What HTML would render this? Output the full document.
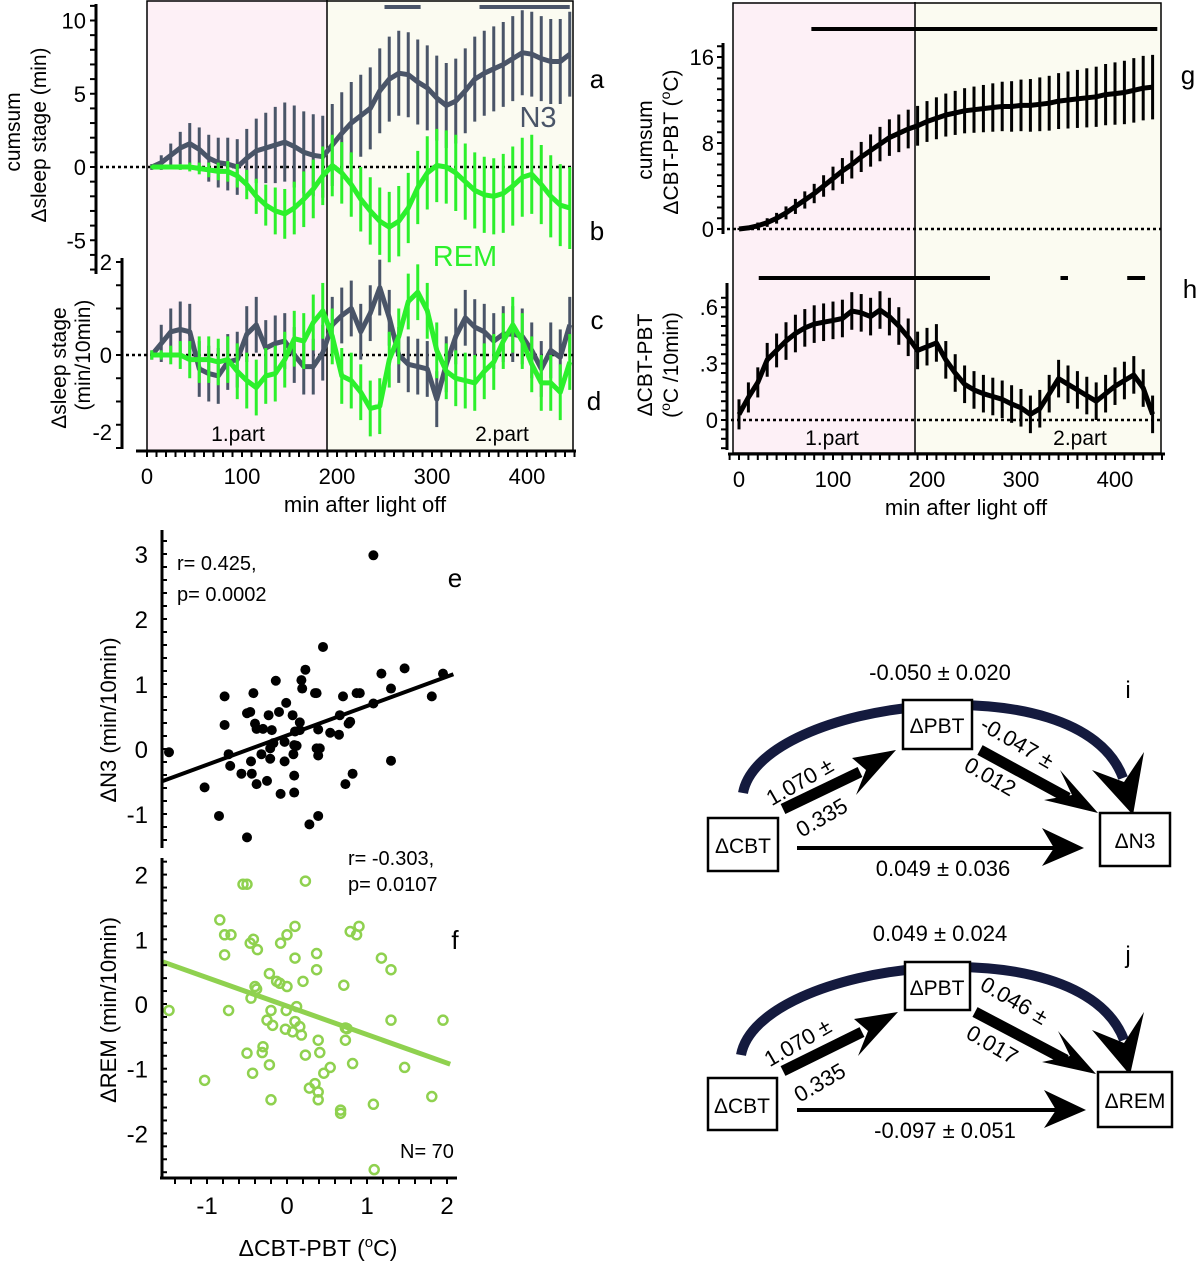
<!DOCTYPE html>
<html><head><meta charset="utf-8"><style>
body{margin:0;background:#fff}
svg{display:block;font-family:"Liberation Sans",sans-serif}
</style></head><body>
<svg id="fig" width="1200" height="1264" viewBox="0 0 1200 1264" xmlns="http://www.w3.org/2000/svg">
<g id="gL"></g>
<g id="gR"></g>
<g id="gS"></g>
</svg>
<script>
// ---------- data: left panel (a-d) ----------
const timesL = [5,15,25,35,45,55,65,75,85,95,105,115,125,135,145,155,165,175,185,195,205,215,225,235,245,255,265,275,285,295,305,315,325,335,345,355,365,375,385,395,405,415,425,435,445];
const n3Cum = [0,0.3,0.8,1.3,1.6,1.2,0.6,0.3,0.2,0,0.6,1.1,1.3,1.5,1.7,1.4,1.0,0.8,0.7,1.5,2.3,3.0,3.5,4.0,5.2,6.0,6.4,6.3,5.8,5.4,4.7,4.2,4.5,5.2,6.0,6.4,6.7,7.0,7.4,7.8,7.7,7.4,7.2,7.2,7.7];
const n3CumErr = [0.2,0.5,0.8,1.1,1.4,1.5,1.6,1.7,1.8,1.9,2.0,2.2,2.4,2.6,2.7,2.8,2.8,2.8,2.8,2.8,2.8,2.8,2.8,2.8,2.9,2.9,2.9,2.9,2.9,2.9,2.9,2.9,2.9,2.9,2.9,2.9,2.9,2.9,2.9,2.9,2.9,2.9,2.9,2.9,2.9];
const remCum = [0,0,0,0,0,-0.1,-0.2,-0.3,-0.3,-0.6,-1.2,-2.0,-2.6,-3.0,-3.2,-2.8,-2.2,-1.5,-0.6,0.1,-0.4,-1.2,-2.2,-3.0,-3.7,-4.1,-3.7,-2.8,-1.4,-0.4,0.1,0,-0.4,-1.0,-1.6,-1.9,-2.0,-1.8,-1.3,-0.7,-0.5,-1.2,-2.0,-2.6,-2.8];
const remCumErr = [0.1,0.1,0.15,0.2,0.3,0.4,0.5,0.6,0.7,0.8,1.0,1.2,1.4,1.6,1.7,1.8,1.9,2.0,2.0,2.1,2.1,2.2,2.2,2.3,2.3,2.4,2.4,2.4,2.5,2.5,2.5,2.5,2.6,2.6,2.6,2.6,2.6,2.7,2.7,2.7,2.7,2.7,2.8,2.8,2.8];
const n3Rate = [0,0.25,0.5,0.55,0.5,-0.3,-0.4,-0.45,-0.15,-0.1,0.45,0.65,0.15,0.25,0.3,0,-0.25,-0.25,0.05,0.65,0.85,1.0,0.5,0.9,1.45,0.8,0,-0.2,-0.25,-0.3,-0.95,-0.2,0.4,0.8,0.6,0.5,0.3,0.45,0.45,0.4,0.1,-0.3,0.1,-0.05,0.65];
const n3RateErr = [0.1,0.4,0.5,0.6,0.6,0.6,0.6,0.6,0.6,0.6,0.6,0.6,0.6,0.6,0.6,0.6,0.6,0.6,0.6,0.6,0.6,0.6,0.6,0.6,0.6,0.6,0.6,0.6,0.6,0.6,0.6,0.6,0.6,0.6,0.6,0.6,0.6,0.6,0.6,0.6,0.6,0.6,0.6,0.6,0.6];
const remRate = [0,0,0,0,-0.1,-0.1,-0.1,-0.15,-0.1,-0.35,-0.55,-0.7,-0.45,-0.4,-0.1,0.35,0.3,0.7,0.95,0.4,-0.45,-0.55,-0.8,-1.15,-1.1,-0.1,0.4,1.15,1.35,0.95,0.1,-0.35,-0.5,-0.55,-0.6,-0.35,-0.15,0.3,0.65,0.3,-0.2,-0.6,-0.6,-0.8,-0.15];
const remRateErr = [0.1,0.1,0.2,0.3,0.4,0.5,0.5,0.5,0.5,0.6,0.6,0.6,0.6,0.6,0.6,0.6,0.6,0.6,0.6,0.6,0.6,0.6,0.6,0.6,0.6,0.6,0.6,0.6,0.6,0.6,0.6,0.6,0.6,0.6,0.6,0.6,0.6,0.6,0.6,0.6,0.6,0.6,0.6,0.6,0.6];
const sigN3 = [[250,288],[350,445]];
const xTicks = [0,100,200,300,400];
const yTicksA = [10,5,0,-5];
const yTicksC = [2,0,-2];
// ---------- data: right panel (g-h) ----------
const timesR = [0,10,20,30,40,50,60,70,80,90,100,110,120,130,140,150,160,170,180,190,200,210,220,230,240,250,260,270,280,290,300,310,320,330,340,350,360,370,380,390,400,410,420,430,440];
const gCum = [0,0.1,0.3,0.6,1.0,1.5,2.1,2.7,3.3,4.0,4.7,5.4,6.0,6.7,7.3,7.9,8.5,8.9,9.3,9.6,10.0,10.3,10.6,10.8,11.0,11.1,11.2,11.3,11.4,11.4,11.5,11.5,11.6,11.7,11.9,12.0,12.1,12.2,12.3,12.5,12.6,12.7,12.9,13.1,13.2];
const gErr = [0.1,0.2,0.3,0.4,0.5,0.6,0.7,0.8,0.9,1.0,1.1,1.2,1.3,1.4,1.5,1.6,1.7,1.75,1.8,1.85,1.9,1.95,2.0,2.05,2.1,2.15,2.2,2.25,2.3,2.35,2.4,2.45,2.5,2.55,2.6,2.65,2.7,2.75,2.8,2.85,2.9,2.95,3.0,3.0,3.0];
const hRate = [0.03,0.12,0.2,0.32,0.37,0.42,0.46,0.49,0.51,0.52,0.53,0.54,0.58,0.57,0.55,0.585,0.55,0.5,0.44,0.37,0.39,0.41,0.32,0.25,0.19,0.16,0.14,0.125,0.11,0.085,0.065,0.03,0.06,0.14,0.22,0.19,0.16,0.13,0.1,0.14,0.18,0.21,0.24,0.17,0.03];
const hErr = [0.08,0.08,0.08,0.09,0.09,0.1,0.1,0.1,0.1,0.1,0.1,0.1,0.1,0.1,0.1,0.1,0.1,0.1,0.1,0.1,0.1,0.1,0.1,0.1,0.1,0.1,0.1,0.1,0.1,0.1,0.1,0.1,0.1,0.1,0.1,0.1,0.1,0.1,0.1,0.1,0.1,0.1,0.1,0.1,0.1];
const sigG = [[77,445]];
const sigH = [[21,267],[342,350],[413,432]];
const yTicksG = [16,8,0];
const yTicksH = [0.6,0.3,0];
const yTickLabelsH = [".6",".3","0"];
// ---------- data: scatter e ----------
const eX = [-1.475,1.08,0.45,-0.78,-0.78,-0.42,-0.5,-0.46,-0.4,-0.38,-0.3,-0.14,-0.23,-0.1,-0.01,0.07,0.18,0.19,0.23,0.16,0.35,0.37,0.39,0.54,0.66,0.7,0.87,0.91,0.77,0.79,0.65,1.18,1.3,1.47,1.81,1.95,1.08,-0.19,0.1,-0.21,-0.03,0.09,0.37,0.41,0.39,-0.32,-0.21,0.08,-0.03,-0.73,-0.71,-0.45,-0.57,-0.44,-0.38,-0.25,0.09,-0.08,0.09,0.73,0.82,1.3,-1.03,-0.85,-0.5,0.39,0.28,0.12,0.16,-0.17];
const eY = [-0.05,2.98,1.57,0.81,0.37,0.86,0.55,0.57,0.39,0.31,0.31,1.05,0.52,0.57,0.71,0.52,1.06,0.93,1.22,0.41,0.86,0.86,0.3,0.25,0.52,0.81,0.86,0.86,0.39,0.42,0.22,1.16,0.93,1.24,0.81,1.16,0.7,0.29,0.27,0.01,0.11,0.06,0.01,0.01,-0.1,-0.08,-0.15,-0.08,-0.19,-0.08,-0.26,-0.19,-0.38,-0.38,-0.54,-0.49,-0.41,-0.69,-0.67,-0.54,-0.38,-0.18,-0.59,-1.03,-1.36,-1.03,-1.16,0.05,0.29,0.09];
const eFit = [[-1.57,-0.5],[2.08,1.15]];
// ---------- data: scatter f ----------
const fX = [-1.475,-0.55,-0.5,0.23,-0.84,-0.78,-0.7,-0.78,-0.46,-0.42,-0.37,-0.08,0,0.1,0.1,0.37,0.37,-0.22,-0.13,-0.09,0,0.2,-0.4,-0.38,-0.45,-0.73,-0.2,-0.25,-0.18,-0.01,0.12,-0.02,0.07,0.1,0.16,0.18,0.23,-0.5,-0.3,-0.31,-0.22,-0.43,-1.03,-0.2,0.39,0.41,0.46,0.54,0.28,0.35,0.39,0.39,0.67,0.67,0.73,0.75,0.82,0.71,0.79,0.87,0.9,1.18,1.3,1.3,1.47,1.81,1.95,1.08,1.09,0.73];
const fY = [-0.1,1.85,1.85,1.9,1.3,1.07,1.07,0.76,0.94,1.0,0.84,0.94,1.07,1.2,0.71,0.78,0.53,0.47,0.35,0.32,0.27,0.35,0.27,0.23,0.09,-0.1,-0.1,-0.25,-0.33,-0.1,-0.04,-0.39,-0.43,-0.27,-0.35,-0.48,-0.79,-0.76,-0.66,-0.75,-0.94,-1.07,-1.18,-1.48,-0.56,-0.75,-1.07,-0.98,-1.3,-1.23,-1.36,-1.48,-1.64,-1.69,-0.56,-0.38,-0.92,0.29,1.12,1.07,1.2,0.71,0.53,-0.25,-0.98,-1.43,-0.25,-1.55,-2.56,-0.37];
const fFit = [[-1.55,0.65],[2.04,-0.93]];
const sXTicks = [-1,0,1,2];
const eYTicks = [3,2,1,0,-1];
const fYTicks = [2,1,0,-1,-2];

const NS = "http://www.w3.org/2000/svg";
function mk(parent, tag, attrs, text){
  const el = document.createElementNS(NS, tag);
  for (const k in attrs) el.setAttribute(k, attrs[k]);
  if (text !== undefined) el.textContent = text;
  parent.appendChild(el);
  return el;
}
const SLATE = "#4a5568", GREEN = "#2cf02c", LGREEN = "#8fd14f";
const F = '"Liberation Sans", sans-serif';

// ===== LEFT PANEL =====
const gL = document.getElementById('gL');
const xL = t => 147 + 0.95 * t;
const yA = v => 167 - 14.65 * v;
const yC = v => 355 - 46.5 * v;
let r;
r = mk(gL,'rect',{x:147,y:0,width:180,height:451,fill:'#fdf0f6'});
 
r = mk(gL,'rect',{x:327,y:0,width:246,height:451,fill:'#fbfbf1'});
 
r = mk(gL,'rect',{x:147,y:1,width:426,height:450,fill:'none',stroke:'#000','stroke-width':1.5});
 
r = mk(gL,'line',{x1:327,y1:0,x2:327,y2:451,stroke:'#000','stroke-width':1.5});
 
r = mk(gL,'line',{x1:100,y1:yA(0),x2:573,y2:yA(0),stroke:'#000','stroke-width':2.5,'stroke-dasharray':'3,3'});
 
r = mk(gL,'line',{x1:126,y1:yC(0),x2:573,y2:yC(0),stroke:'#000','stroke-width':2.5,'stroke-dasharray':'3,3'});
 
sigN3.forEach(s=>{
  const l = mk(gL,'line',{x1:xL(s[0]),y1:7,x2:xL(s[1]),y2:7,stroke:SLATE,'stroke-width':4});
   
});
function series(g, xs, ys, es, xf, yf, color, lw, name){
  const eg = mk(g,'g',{});
   
  xs.forEach((t,i)=>{
    const l = mk(eg,'line',{x1:xf(t),x2:xf(t),y1:yf(ys[i]+es[i]),y2:yf(ys[i]-es[i]),stroke:color,'stroke-width':3});
     
  });
  const p = mk(g,'polyline',{points:xs.map((t,i)=>xf(t).toFixed(1)+','+yf(ys[i]).toFixed(1)).join(' '),fill:'none',stroke:color,'stroke-width':lw,'stroke-linejoin':'round'});
   
}
series(gL, timesL, n3Cum, n3CumErr, xL, yA, SLATE, 5, 'n3-cumsum');
series(gL, timesL, remCum, remCumErr, xL, yA, GREEN, 5, 'rem-cumsum');
series(gL, timesL, n3Rate, n3RateErr, xL, yC, SLATE, 5, 'n3-rate');
series(gL, timesL, remRate, remRateErr, xL, yC, GREEN, 5, 'rem-rate');
r = mk(gL,'line',{x1:96,y1:4,x2:96,y2:274,stroke:'#000','stroke-width':3});
 
for (let v=-7; v<=11; v++){ const y=yA(v); if(y<4||y>274) continue;
  const l = mk(gL,'line',{x1:90,y1:y,x2:96,y2:y,stroke:'#000','stroke-width':2});
   
}
yTicksA.forEach(v=>{
  const t = mk(gL,'text',{x:86,y:yA(v)+8,'text-anchor':'end','font-size':22,'font-family':F},String(v));
   
});
r = mk(gL,'line',{x1:122,y1:258,x2:122,y2:449,stroke:'#000','stroke-width':3});
 
for (let v=-2; v<=2; v+=0.5){
  const l = mk(gL,'line',{x1:116,y1:yC(v),x2:122,y2:yC(v),stroke:'#000','stroke-width':2});
   
}
yTicksC.forEach(v=>{
  const t = mk(gL,'text',{x:112,y:Math.min(yC(v)+8,440),'text-anchor':'end','font-size':22,'font-family':F},String(v));
   
});
r = mk(gL,'line',{x1:136,y1:451,x2:576,y2:451,stroke:'#000','stroke-width':3});
 
for (let t=0; t<=450; t+=10){
  const l = mk(gL,'line',{x1:xL(t),y1:451,x2:xL(t),y2:457,stroke:'#000','stroke-width':2});
   
}
xTicks.forEach(v=>{
  const t = mk(gL,'text',{x:xL(v),y:484,'text-anchor':'middle','font-size':22,'font-family':F},String(v));
   
});

// ===== RIGHT PANEL =====
const gR = document.getElementById('gR');
const xR = t => 739 + 0.94 * t;
const yG = v => 229 - 10.75 * v;
const yH = v => 420 - 188 * v;
r = mk(gR,'rect',{x:733,y:2,width:182,height:451,fill:'#fdf0f6'});
 
r = mk(gR,'rect',{x:915,y:2,width:246,height:451,fill:'#fbfbf1'});
 
r = mk(gR,'rect',{x:733,y:3,width:428,height:450,fill:'none',stroke:'#000','stroke-width':1.5});
 
r = mk(gR,'line',{x1:915,y1:2,x2:915,y2:453,stroke:'#000','stroke-width':1.5});
 
r = mk(gR,'line',{x1:727,y1:yG(0),x2:1161,y2:yG(0),stroke:'#000','stroke-width':2.5,'stroke-dasharray':'3,3'});
 
r = mk(gR,'line',{x1:731,y1:yH(0),x2:1161,y2:yH(0),stroke:'#000','stroke-width':2.5,'stroke-dasharray':'3,3'});
 
sigG.forEach(s=>{
  const l = mk(gR,'line',{x1:xR(s[0]),y1:29,x2:xR(s[1]),y2:29,stroke:'#000','stroke-width':4});
   
});
sigH.forEach(s=>{
  const l = mk(gR,'line',{x1:xR(s[0]),y1:278,x2:xR(s[1]),y2:278,stroke:'#000','stroke-width':4});
   
});
series(gR, timesR, gCum, gErr, xR, yG, '#000', 5, 'cbt-pbt-cumsum');
series(gR, timesR, hRate, hErr, xR, yH, '#000', 5, 'cbt-pbt-rate');
r = mk(gR,'line',{x1:723,y1:43,x2:723,y2:234,stroke:'#000','stroke-width':3});
 
for (let v=0; v<=17; v+=1){
  const l = mk(gR,'line',{x1:717,y1:yG(v),x2:723,y2:yG(v),stroke:'#000','stroke-width':2});
   
}
yTicksG.forEach(v=>{
  const t = mk(gR,'text',{x:714,y:yG(v)+8,'text-anchor':'end','font-size':22,'font-family':F},String(v));
   
});
r = mk(gR,'line',{x1:727,y1:283,x2:727,y2:450,stroke:'#000','stroke-width':3});
 
for (let v=-0.15; v<=0.7; v+=0.05){
  const l = mk(gR,'line',{x1:721,y1:yH(v),x2:727,y2:yH(v),stroke:'#000','stroke-width':2});
   
}
yTicksH.forEach((v,i)=>{
  const t = mk(gR,'text',{x:718,y:yH(v)+8,'text-anchor':'end','font-size':22,'font-family':F},yTickLabelsH[i]);
   
});
r = mk(gR,'line',{x1:728,y1:454,x2:1165,y2:454,stroke:'#000','stroke-width':3});
 
for (let t=-10; t<=450; t+=10){
  const l = mk(gR,'line',{x1:xR(t),y1:454,x2:xR(t),y2:460,stroke:'#000','stroke-width':2});
   
}
xTicks.forEach(v=>{
  const t = mk(gR,'text',{x:xR(v),y:487,'text-anchor':'middle','font-size':22,'font-family':F},String(v));
   
});

// ===== SCATTER =====
const gS = document.getElementById('gS');
const xS = v => 287 + 80 * v;
const yE = v => 749 - 65 * v;
const yF = v => 1004 - 64.7 * v;
eX.forEach((x,i)=>{
  const c = mk(gS,'circle',{cx:xS(x),cy:yE(eY[i]),r:5,fill:'#000'});
   
});
r = mk(gS,'line',{x1:xS(eFit[0][0]),y1:yE(eFit[0][1]),x2:xS(eFit[1][0]),y2:yE(eFit[1][1]),stroke:'#000','stroke-width':4});
 
fX.forEach((x,i)=>{
  const c = mk(gS,'circle',{cx:xS(x),cy:yF(fY[i]),r:4.5,fill:'none',stroke:LGREEN,'stroke-width':2.5});
   
});
r = mk(gS,'line',{x1:xS(fFit[0][0]),y1:yF(fFit[0][1]),x2:xS(fFit[1][0]),y2:yF(fFit[1][1]),stroke:LGREEN,'stroke-width':5});
 
r = mk(gS,'line',{x1:162,y1:530,x2:162,y2:848,stroke:'#000','stroke-width':3});
 
for (let v=-1.4; v<=3.3; v+=0.2){
  const l = mk(gS,'line',{x1:162,y1:yE(v),x2:167,y2:yE(v),stroke:'#000','stroke-width':2});
   
}
eYTicks.forEach(v=>{
  const t = mk(gS,'text',{x:148,y:yE(v)+9,'text-anchor':'end','font-size':24,'font-family':F},String(v));
   
});
r = mk(gS,'line',{x1:162,y1:858,x2:162,y2:1178,stroke:'#000','stroke-width':3});
 
for (let v=-2.6; v<=2.2; v+=0.2){
  const l = mk(gS,'line',{x1:162,y1:yF(v),x2:167,y2:yF(v),stroke:'#000','stroke-width':2});
   
}
fYTicks.forEach(v=>{
  const t = mk(gS,'text',{x:148,y:yF(v)+9,'text-anchor':'end','font-size':24,'font-family':F},String(v));
   
});
r = mk(gS,'line',{x1:160,y1:1178,x2:457,y2:1178,stroke:'#000','stroke-width':3});
 
for (let v=-1.4; v<=2.1; v+=0.2){
  const l = mk(gS,'line',{x1:xS(v),y1:1178,x2:xS(v),y2:1184,stroke:'#000','stroke-width':2});
   
}
sXTicks.forEach(v=>{
  const t = mk(gS,'text',{x:xS(v),y:1214,'text-anchor':'middle','font-size':24,'font-family':F},String(v));
   
});
</script>
<svg style="position:absolute;left:0;top:0" width="1200" height="1264" viewBox="0 0 1200 1264" font-family="Liberation Sans, sans-serif">
  <text x="20" y="132" font-size="21" text-anchor="middle" transform="rotate(-90 20 132)">cumsum</text>
  <text x="46" y="135" font-size="21" text-anchor="middle" transform="rotate(-90 46 135)">Δsleep stage (min)</text>
  <text x="66" y="368" font-size="21" text-anchor="middle" transform="rotate(-90 66 368)">Δsleep stage</text>
  <text x="90" y="355" font-size="21" text-anchor="middle" transform="rotate(-90 90 355)">(min/10min)</text>
  <text x="365" y="512" font-size="22" text-anchor="middle">min after light off</text>
  <text x="538" y="127" font-size="29" fill="#4a5568" text-anchor="middle">N3</text>
  <text x="465" y="266" font-size="29" fill="#2cf02c" text-anchor="middle">REM</text>
  <text x="238" y="441" font-size="21" text-anchor="middle">1.part</text>
  <text x="502" y="441" font-size="21" text-anchor="middle">2.part</text>
  <text x="597" y="88" font-size="26" text-anchor="middle">a</text>
  <text x="597" y="240" font-size="26" text-anchor="middle">b</text>
  <text x="597" y="329" font-size="26" text-anchor="middle">c</text>
  <text x="594" y="410" font-size="26" text-anchor="middle">d</text>
  <text x="652" y="140" font-size="21" text-anchor="middle" transform="rotate(-90 652 140)">cumsum</text>
  <text x="678" y="142" font-size="21" text-anchor="middle" transform="rotate(-90 678 142)">ΔCBT-PBT (<tspan font-size="14" dy="-8">o</tspan><tspan dy="8">C)</tspan></text>
  <text x="652" y="365" font-size="21" text-anchor="middle" transform="rotate(-90 652 365)">ΔCBT-PBT</text>
  <text x="678" y="365" font-size="21" text-anchor="middle" transform="rotate(-90 678 365)">(<tspan font-size="14" dy="-8">o</tspan><tspan dy="8">C /10min)</tspan></text>
  <text x="966" y="515" font-size="22" text-anchor="middle">min after light off</text>
  <text x="832" y="445" font-size="21" text-anchor="middle">1.part</text>
  <text x="1080" y="445" font-size="21" text-anchor="middle">2.part</text>
  <text x="1188" y="84" font-size="26" text-anchor="middle">g</text>
  <text x="1190" y="298" font-size="26" text-anchor="middle">h</text>
  <text x="116" y="720" font-size="22" text-anchor="middle" transform="rotate(-90 116 720)">ΔN3 (min/10min)</text>
  <text x="116" y="1010" font-size="22" text-anchor="middle" transform="rotate(-90 116 1010)">ΔREM (min/10min)</text>
  <text x="318" y="1256" font-size="23" text-anchor="middle">ΔCBT-PBT (<tspan font-size="15" dy="-9">o</tspan><tspan dy="9">C)</tspan></text>
  <text x="177" y="570" font-size="20">r= 0.425,</text>
  <text x="177" y="601" font-size="20">p= 0.0002</text>
  <text x="348" y="865" font-size="20">r= -0.303,</text>
  <text x="348" y="891" font-size="20">p= 0.0107</text>
  <text x="400" y="1158" font-size="20">N= 70</text>
  <text x="455" y="587" font-size="26" text-anchor="middle">e</text>
  <text x="455" y="949" font-size="26" text-anchor="middle">f</text>
  <g>
    <path d="M743 793 C 760 700, 1080 660, 1123 778" fill="none" stroke="#141a3e" stroke-width="10"/>
    <polygon points="1133,815 1092,770 1124,782 1144,752" fill="#000"/>
    <line x1="783" y1="809" x2="860" y2="772" stroke="#000" stroke-width="11"/>
    <polygon points="896,750 852,758 866,770 856,795" fill="#000"/>
    <line x1="980" y1="750" x2="1068" y2="798" stroke="#000" stroke-width="11"/>
    <polygon points="1098,813 1060,770 1072,795 1044,800" fill="#000"/>
    <line x1="797" y1="848" x2="1060" y2="848" stroke="#000" stroke-width="4"/>
    <polygon points="1084,848 1042,828 1054,848 1042,866" fill="#000"/>
    <rect x="708" y="818" width="70" height="53" fill="#fff" stroke="#000" stroke-width="2.5"/>
    <text x="743" y="853" font-size="21" text-anchor="middle">ΔCBT</text>
    <rect x="903" y="700" width="69" height="49" fill="#fff" stroke="#000" stroke-width="2.5"/>
    <text x="937" y="733" font-size="21" text-anchor="middle">ΔPBT</text>
    <rect x="1100" y="813" width="70" height="53" fill="#fff" stroke="#000" stroke-width="2.5"/>
    <text x="1135" y="848" font-size="21" text-anchor="middle">ΔN3</text>
    <text x="940" y="680" font-size="22" text-anchor="middle">-0.050 ± 0.020</text>
    <text x="1128" y="698" font-size="24" text-anchor="middle">i</text>
    <text x="800" y="789" font-size="22" text-anchor="middle" transform="rotate(-30 800 782)">1.070 ±</text>
    <text x="822" y="825" font-size="22" text-anchor="middle" transform="rotate(-30 822 818)">0.335</text>
    <text x="1017" y="750" font-size="22" text-anchor="middle" transform="rotate(30 1017 743)">-0.047 ±</text>
    <text x="990" y="784" font-size="22" text-anchor="middle" transform="rotate(30 990 777)">0.012</text>
    <text x="943" y="876" font-size="22" text-anchor="middle">0.049 ± 0.036</text>
  </g>
  <g>
    <path d="M741 1055 C 758 962, 1080 922, 1124 1040" fill="none" stroke="#141a3e" stroke-width="10"/>
    <polygon points="1130,1075 1092,1030 1124,1043 1144,1012" fill="#000"/>
    <line x1="783" y1="1071" x2="862" y2="1032" stroke="#000" stroke-width="11"/>
    <polygon points="898,1012 854,1019 868,1031 858,1056" fill="#000"/>
    <line x1="975" y1="1012" x2="1066" y2="1060" stroke="#000" stroke-width="11"/>
    <polygon points="1096,1074 1058,1031 1070,1056 1042,1062" fill="#000"/>
    <line x1="797" y1="1110" x2="1060" y2="1110" stroke="#000" stroke-width="4"/>
    <polygon points="1086,1110 1044,1090 1056,1110 1044,1128" fill="#000"/>
    <rect x="708" y="1078" width="69" height="52" fill="#fff" stroke="#000" stroke-width="2.5"/>
    <text x="742" y="1113" font-size="21" text-anchor="middle">ΔCBT</text>
    <rect x="905" y="962" width="65" height="48" fill="#fff" stroke="#000" stroke-width="2.5"/>
    <text x="937" y="995" font-size="21" text-anchor="middle">ΔPBT</text>
    <rect x="1098" y="1072" width="74" height="55" fill="#fff" stroke="#000" stroke-width="2.5"/>
    <text x="1135" y="1108" font-size="21" text-anchor="middle">ΔREM</text>
    <text x="940" y="941" font-size="22" text-anchor="middle">0.049 ± 0.024</text>
    <text x="1128" y="963" font-size="24" text-anchor="middle">j</text>
    <text x="798" y="1050" font-size="22" text-anchor="middle" transform="rotate(-30 798 1043)">1.070 ±</text>
    <text x="820" y="1090" font-size="22" text-anchor="middle" transform="rotate(-30 820 1083)">0.335</text>
    <text x="1014" y="1008" font-size="22" text-anchor="middle" transform="rotate(30 1014 1001)">0.046 ±</text>
    <text x="992" y="1052" font-size="22" text-anchor="middle" transform="rotate(30 992 1045)">0.017</text>
    <text x="945" y="1138" font-size="22" text-anchor="middle">-0.097 ± 0.051</text>
  </g>
</svg>
</body></html>
